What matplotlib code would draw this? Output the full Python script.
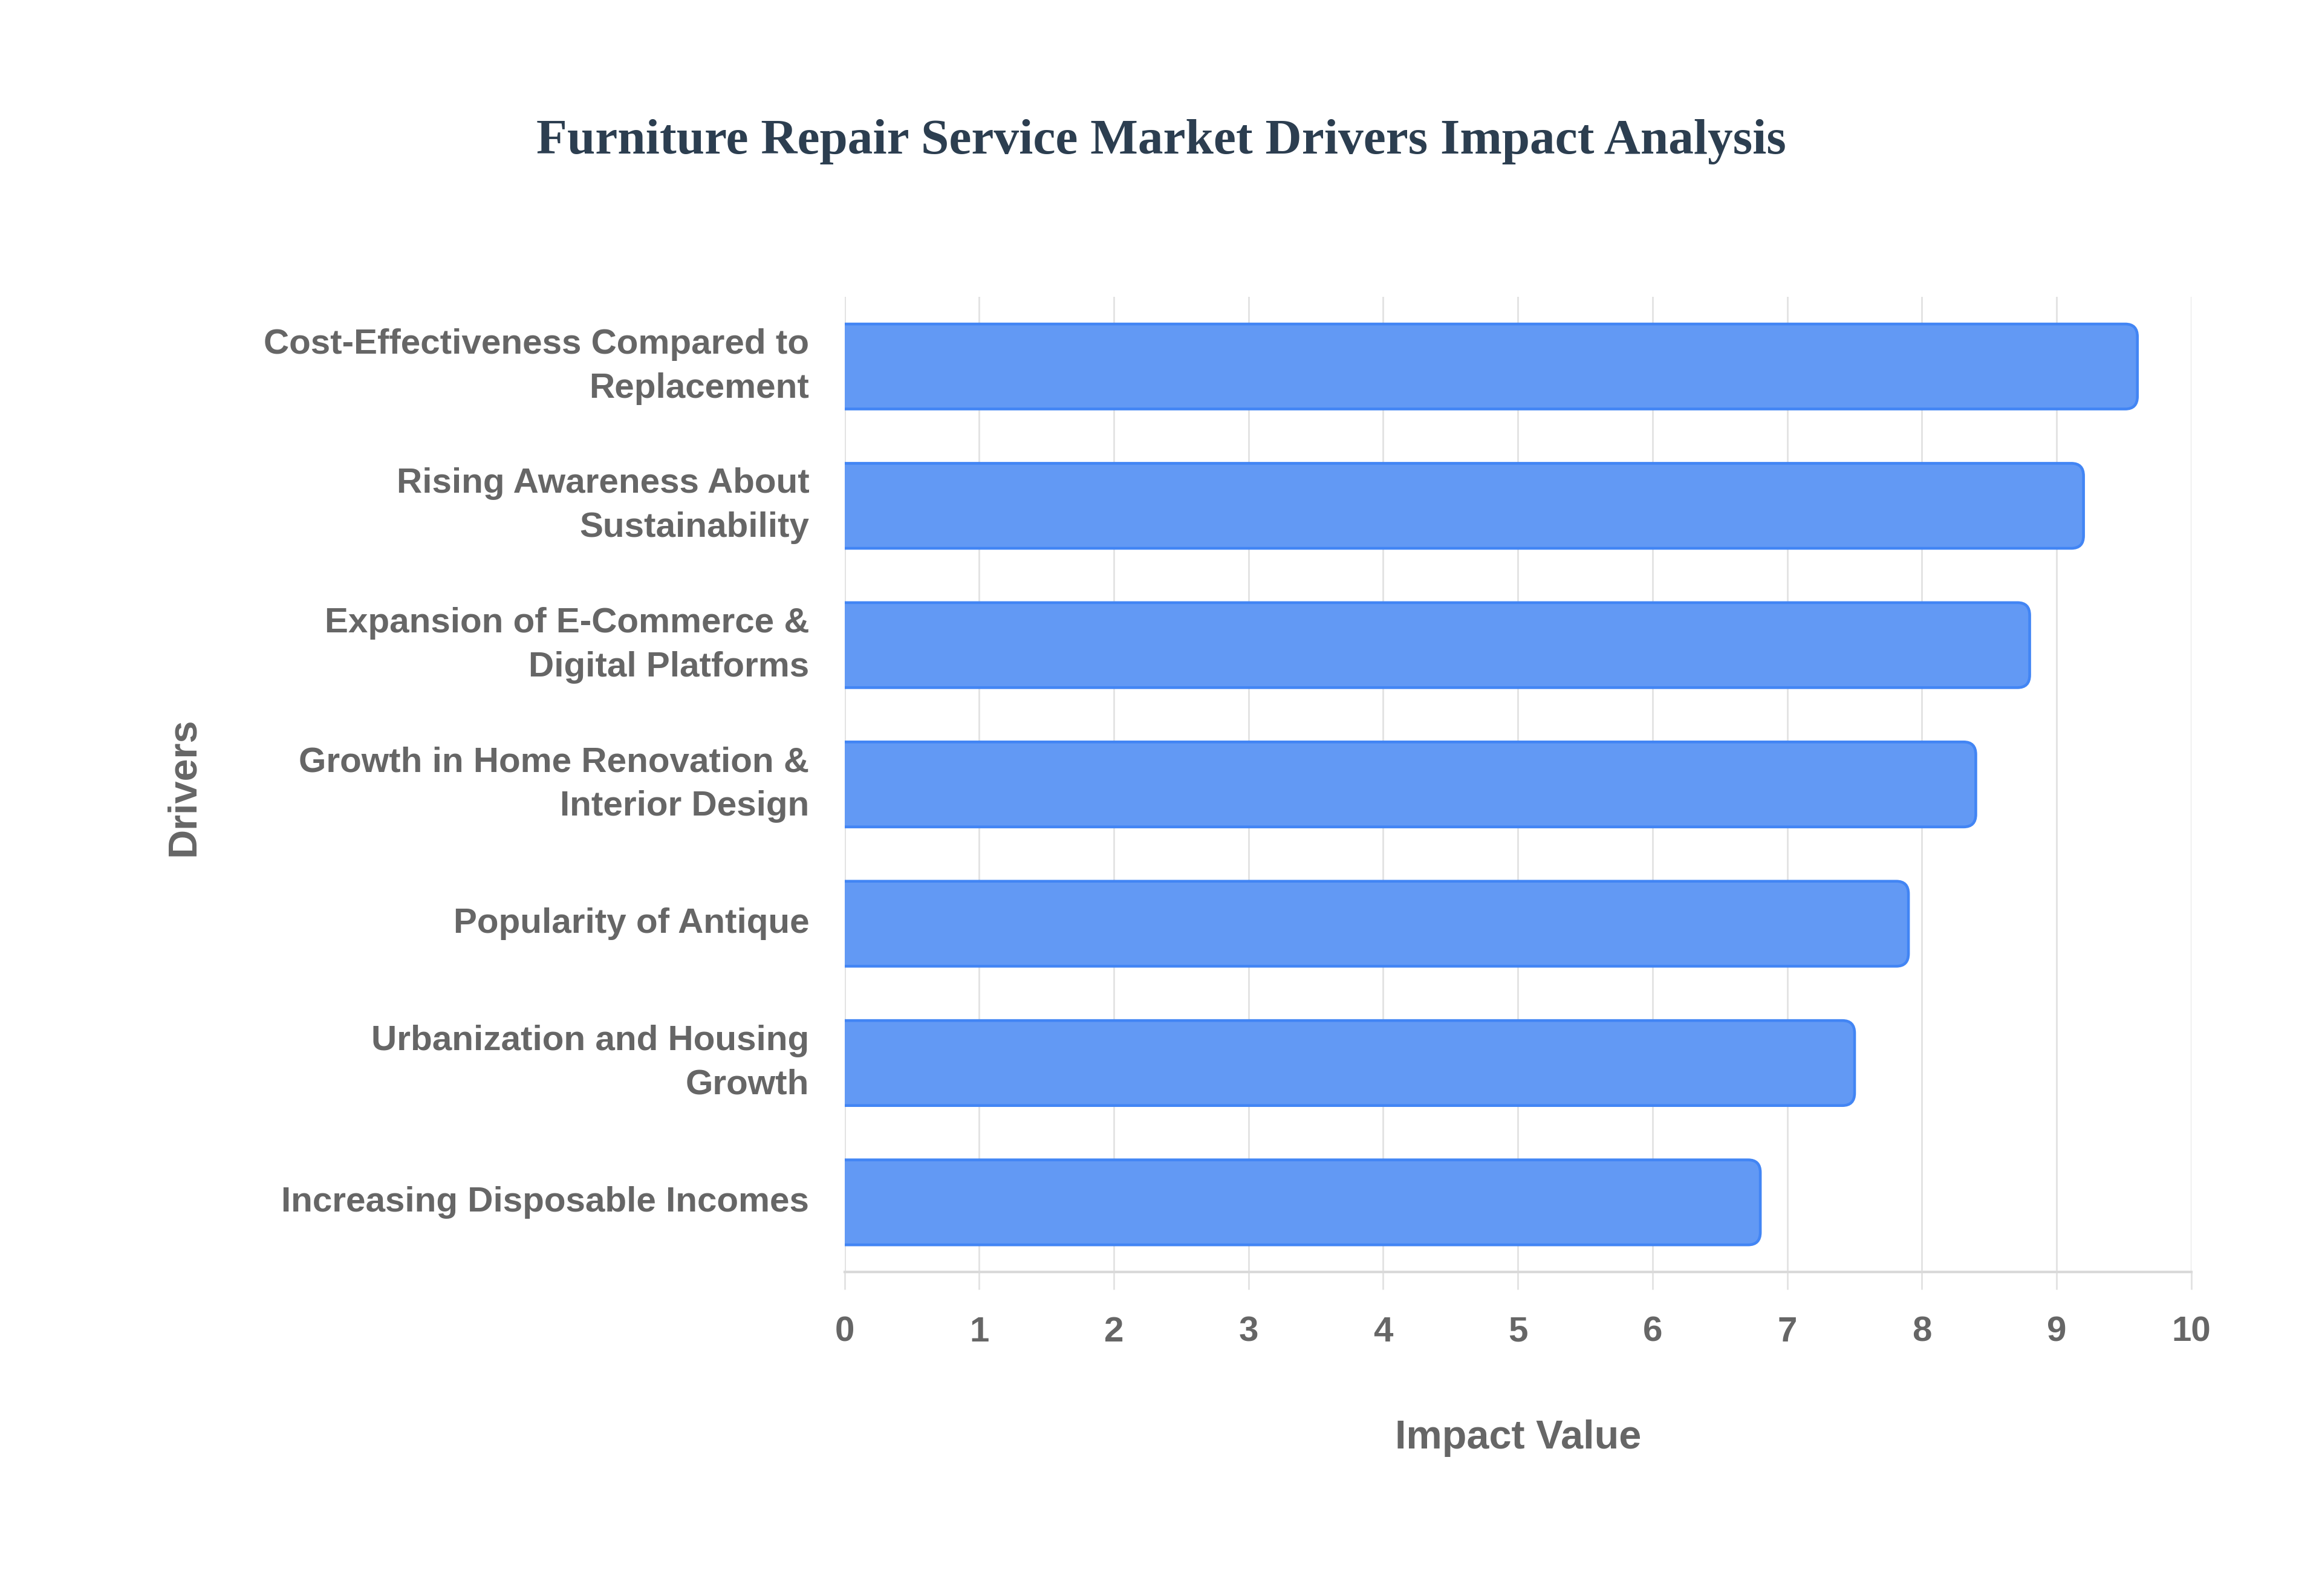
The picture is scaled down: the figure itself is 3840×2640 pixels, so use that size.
import matplotlib
matplotlib.use("Agg")
import matplotlib.pyplot as plt
from matplotlib.patches import FancyBboxPatch

# data (top to bottom)
drivers = [
    "Cost-Effectiveness Compared to\nReplacement",
    "Rising Awareness About\nSustainability",
    "Expansion of E-Commerce &\nDigital Platforms",
    "Growth in Home Renovation &\nInterior Design",
    "Popularity of Antique",
    "Urbanization and Housing\nGrowth",
    "Increasing Disposable Incomes",
]
impact = [9.6, 9.2, 8.8, 8.4, 7.9, 7.5, 6.8]
xticks = list(range(0, 11))

grey = "#666666"
grid_c = "#e3e3e3"

plt.rcParams['font.family'] = ['Liberation Sans', 'DejaVu Sans']

fig = plt.figure(figsize=(12.8, 8.8), dpi=300)
ax = fig.add_axes([0.3637, 0.203, 0.580, 0.611])

ypos = list(range(len(drivers)))
bars = ax.barh(ypos, impact, height=0.61, color="#6299f4")

# swap plain rectangles for ones with rounded right ends
for r in bars:
    x0, y0, w, h = r.get_x(), r.get_y(), r.get_width(), r.get_height()
    r.set_visible(False)
    p = FancyBboxPatch((x0 - 0.3, y0), w + 0.3, h,
                       boxstyle="round,pad=0,rounding_size=0.09",
                       mutation_aspect=1.0,
                       facecolor="#6299f4", edgecolor="#4285f4",
                       linewidth=1.1, zorder=3)
    ax.add_patch(p)
    p.set_clip_path(ax.patch)

ax.set_xlim(0, 10)
ax.set_ylim(len(drivers) - 0.5, -0.5)
ax.set_xticks(xticks)
ax.set_yticks(ypos)
ax.set_yticklabels(drivers, fontsize=14, fontweight='bold', color=grey,
                   linespacing=1.45, va='center')
ax.set_xticklabels([str(t) for t in xticks], fontsize=14, fontweight='bold',
                   color=grey)

ax.grid(axis='x', color=grid_c, linewidth=0.7, zorder=0)
ax.set_axisbelow(True)
for s in ['top', 'right', 'left']:
    ax.spines[s].set_visible(False)
ax.spines['bottom'].set_color("#d9d9d9")
ax.spines['bottom'].set_linewidth(1.0)
ax.axvline(0, color=grid_c, linewidth=0.7, zorder=1)

ax.tick_params(axis='x', length=7, width=0.7, color=grid_c, pad=10.5)
ax.tick_params(axis='y', length=0, pad=14)

ax.set_xlabel("Impact Value", fontsize=16, fontweight='bold', color=grey,
              labelpad=28)
fig.text(0.0791, 0.507, "Drivers", rotation=90, ha='center', va='center',
         fontsize=16, fontweight='bold', color=grey)

fig.text(0.5, 0.911, "Furniture Repair Service Market Drivers Impact Analysis",
         ha='center', va='center', fontsize=20, fontweight='bold',
         color="#2c3e50", family=['Liberation Serif', 'DejaVu Serif'])

fig.savefig("out.png", dpi=300, facecolor='white')
